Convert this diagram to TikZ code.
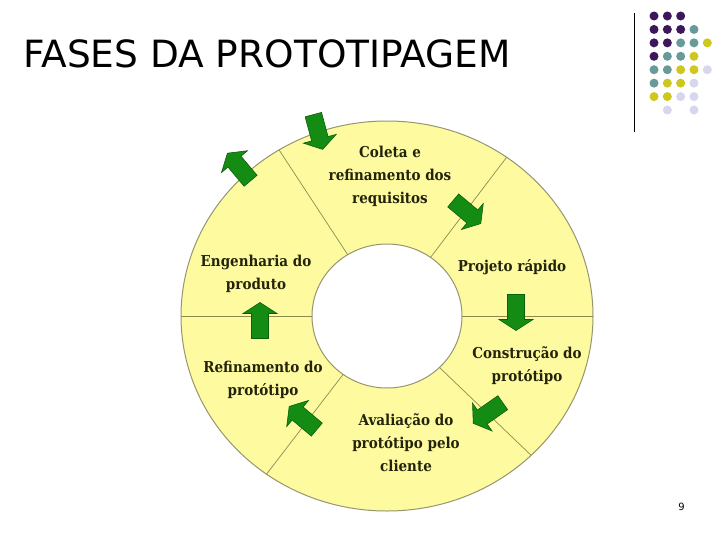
\documentclass[tikz,border=0pt]{standalone}
\usepackage{fontspec}
\usetikzlibrary{calc}
\setmainfont{DejaVu Serif}
\newfontfamily\titlefont{DejaVu Sans}
\newfontfamily\phasefont{DejaVu Serif Condensed}[UprightFont=* Bold]
\definecolor{ringfill}{RGB}{253,250,160}
\definecolor{ringline}{RGB}{150,150,110}
\definecolor{divline}{RGB}{140,140,80}
\definecolor{arrfill}{RGB}{20,140,20}
\definecolor{arrdraw}{RGB}{10,95,10}
\definecolor{txt}{RGB}{35,35,10}
\definecolor{dpurple}{RGB}{62,22,90}
\definecolor{dteal}{RGB}{104,154,154}
\definecolor{dyellow}{RGB}{204,200,30}
\definecolor{dlav}{RGB}{214,214,236}
\tikzset{
  phase/.style={font=\phasefont\fontsize{15}{23}\selectfont, text=txt, align=center, inner sep=0pt},
  divider/.style={draw=divline, line width=0.7pt},
  blockarrow/.pic={\draw[fill=arrfill, draw=arrdraw, line width=0.6pt, line join=miter]
     (-18,-8.5) -- (7,-8.5) -- (7,-17) -- (18,0) -- (7,17) -- (7,8.5) -- (-18,8.5) -- cycle;},
  dot/.style={inner sep=0pt, minimum size=9pt, circle, fill=#1}
}
\begin{document}
\begin{tikzpicture}[x=1pt,y=1pt]
\useasboundingbox (0,0) rectangle (728,-546);
\fill[white] (0,0) rectangle (728,-546);
% title
\node[anchor=base west, inner sep=0pt, font=\titlefont\fontsize{37.5}{42}\selectfont] (title) at (23,-67) {FASES DA PROTOTIPAGEM};
% vertical rule
\coordinate (rtop) at (634,-13);
\coordinate (rbot) at (634,-132);
\draw[line width=1pt] (rtop) -- (rbot);
% dots
\foreach \r/\cols in {0/{0/dpurple,1/dpurple,2/dpurple},
                      1/{0/dpurple,1/dpurple,2/dpurple,3/dteal},
                      2/{0/dpurple,1/dpurple,2/dteal,3/dteal,4/dyellow},
                      3/{0/dpurple,1/dteal,2/dteal,3/dyellow},
                      4/{0/dteal,1/dteal,2/dyellow,3/dyellow,4/dlav},
                      5/{0/dteal,1/dyellow,2/dyellow,3/dlav},
                      6/{0/dyellow,1/dyellow,2/dlav,3/dlav},
                      7/{1/dlav,3/dlav}}{
  \foreach \c/\col in \cols {
    \node[dot=\col] (d\r\c) at ({654+13.33*\c},{-16-13.43*\r}) {};
  }
}
% ring
\coordinate (C) at (387,-316);
\fill[ringfill, draw=ringline, line width=1pt] (C) ellipse [x radius=206pt, y radius=195pt];
\fill[white, draw=ringline, line width=1pt] (C) ellipse [x radius=75pt, y radius=72pt];
\foreach \a in {0,54.5,121.6,180,234.2,314.4}{
  \draw[divider] ($(C)+({75*cos(\a)},{72*sin(\a)})$) -- ($(C)+({206*cos(\a)},{195*sin(\a)})$);
}
% phase texts
\node[phase] (coleta) at (390,-176.5) {Coleta e\\refinamento dos\\requisitos};
\node[phase] (projeto) at (512,-267) {Projeto rápido};
\node[phase] (construcao) at (527,-366) {Construção do\\protótipo};
\node[phase] (avaliacao) at (406,-443) {Avaliação do\\protótipo pelo\\cliente};
\node[phase] (refinamento) at (263,-380) {Refinamento do\\protótipo};
\node[phase] (engenharia) at (256,-273.5) {Engenharia do\\produto};
% block arrows
\pic (a1) [rotate=130] at (239,-167) {blockarrow};
\pic (a2) [rotate=-75] at (318,-132) {blockarrow};
\pic (a3) [rotate=-40] at (467,-212) {blockarrow};
\pic (a4) [rotate=-90] at (516,-312.5) {blockarrow};
\pic (a5) [rotate=215] at (488,-413) {blockarrow};
\pic (a6) [rotate=140] at (303,-418) {blockarrow};
\pic (a7) [rotate=90] at (260,-320.5) {blockarrow};
% slide number
\node[font=\titlefont\fontsize{10}{11}\selectfont, inner sep=0pt] (num) at (681.5,-507) {9};
\end{tikzpicture}
\end{document}
